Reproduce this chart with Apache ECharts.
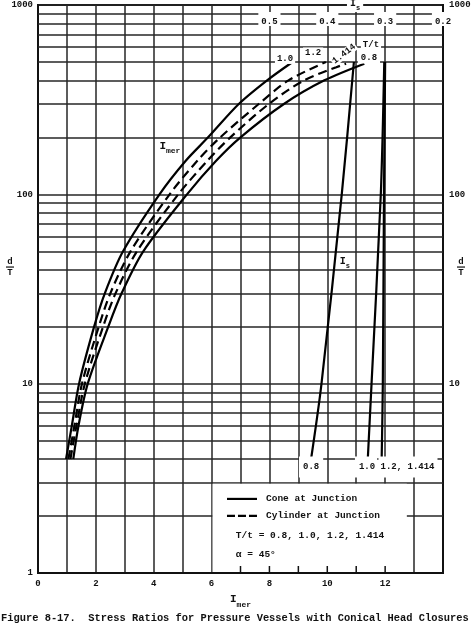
<!DOCTYPE html>
<html>
<head>
<meta charset="utf-8">
<script src="https://cdn.jsdelivr.net/npm/echarts@6/dist/echarts.min.js"></script>
<style>
  html, body { margin: 0; padding: 0; background: #fff; }
  #chart { width: 474px; height: 626px; }
</style>
</head>
<body>
<div id="chart"></div>
<script>
// I_mer curves, [I_mer, d/T]
const coneTt10 = [[0.97, 4], [1.17, 6], [1.42, 10], [1.94, 20], [2.31, 30], [2.94, 50], [4.2, 100], [5.1, 150], [5.88, 200], [6.94, 300], [7.92, 400], [8.8, 500]]
const cylTt12 = [[1.05, 4], [1.26, 6], [1.52, 10], [2.1, 20], [2.5, 30], [3.2, 50], [4.55, 100], [5.5, 150], [6.3, 200], [7.63, 300], [8.66, 400], [9.95, 500]]
const cylTt1414 = [[1.12, 4], [1.33, 6], [1.62, 10], [2.25, 20], [2.68, 30], [3.42, 50], [4.85, 100], [5.85, 150], [6.65, 200], [7.98, 300], [9.2, 400], [10.65, 490]]
const coneTt08 = [[1.22, 4], [1.4, 6], [1.72, 10], [2.43, 20], [2.89, 30], [3.64, 50], [5.15, 100], [6.15, 150], [7.0, 200], [8.5, 300], [9.9, 400], [11.28, 490]]

// I_s curves (read on the bottom scale), [x, d/T]
const isTt08 = [[9.44, 4], [9.8, 10], [10.5, 100], [10.92, 500]]
const isTt10 = [[11.4, 4], [11.53, 10], [11.85, 100], [11.97, 500]]
const isTt12 = [[11.88, 4], [11.92, 10], [11.96, 100], [12.0, 500]]

// axes
const xLabels = [0, 2, 4, 6, 8, 10, 12]
const isTickLabels = [0.5, 0.4, 0.3, 0.2]
const rightYLabels = [10, 100, 1000]
const minorGrid = [2, 3, 4, 5, 6, 7, 8, 9, 20, 30, 40, 50, 60, 70, 80, 90, 200, 300, 400, 500, 600, 700, 800, 900]
const boxTicks = [7, 8, 9, 10, 11, 12]

const FONT = '"Liberation Mono", "DejaVu Sans Mono", monospace'
const INK = '#111'
const GRID = '#262626'

const chart = echarts.init(document.getElementById('chart'), null, { renderer: 'canvas' })

const curve = (name, data, dashed) => ({
  name,
  type: 'line',
  data,
  smooth: 0.3,
  symbol: 'none',
  z: 5,
  itemStyle: { color: '#000' },
  lineStyle: { color: '#000', width: 2.2, type: dashed ? [9, 5] : 'solid' }
})

const subRich = (big, small) => ({
  i: { fontFamily: FONT, fontWeight: 'bold', fontSize: big, lineHeight: big + 4, color: INK, verticalAlign: 'top' },
  s: { fontFamily: FONT, fontWeight: 'bold', fontSize: small, lineHeight: small, color: INK, verticalAlign: 'bottom' }
})

chart.setOption({
  animation: false,
  backgroundColor: '#fff',
  grid: { left: 38, right: 31, top: 5, bottom: 53, show: true, borderColor: INK, borderWidth: 2 },
  xAxis: [
    {
      type: 'value', min: 0, max: 14, interval: 1, position: 'bottom',
      axisLine: { show: true, lineStyle: { color: INK, width: 2 } },
      axisTick: { show: false },
      axisLabel: { customValues: xLabels, fontFamily: FONT, fontWeight: 'bold', fontSize: 9, color: INK, margin: 6 },
      splitLine: { show: true, lineStyle: { color: GRID, width: 1.5 } },
      name: '{i|I}{s|mer}', nameLocation: 'middle', nameGap: 21,
      nameTextStyle: { rich: subRich(11, 8) }
    },
    {
      type: 'value', min: 0.2, max: 0.9, interval: 0.1, inverse: true, position: 'top', offset: -7,
      axisLine: { show: false }, axisTick: { show: false }, splitLine: { show: false },
      axisLabel: {
        inside: true, margin: 0, customValues: isTickLabels, formatter: v => v.toFixed(1),
        showMinLabel: true, showMaxLabel: true,
        backgroundColor: '#fff', padding: [5, 3, 0, 3],
        fontFamily: FONT, fontWeight: 'bold', fontSize: 9, color: INK
      },
      z: 20
    }
  ],
  yAxis: [
    {
      type: 'log', logBase: 10, min: 1, max: 1000, position: 'left',
      axisLine: { show: true, lineStyle: { color: INK, width: 2 } },
      axisTick: { show: false },
      axisLabel: { formatter: v => String(v), fontFamily: FONT, fontWeight: 'bold', fontSize: 9, color: INK, margin: 5 },
      splitLine: { show: true, lineStyle: { color: GRID, width: 1.5 } }
    },
    {
      type: 'log', logBase: 10, min: 1, max: 1000, position: 'right',
      axisLine: { show: true, lineStyle: { color: INK, width: 2 } },
      axisTick: { show: false },
      axisLabel: { customValues: rightYLabels, formatter: v => String(v), fontFamily: FONT, fontWeight: 'bold', fontSize: 9, color: INK, margin: 6 },
      splitLine: { show: false }
    }
  ],
  series: [
    {
      name: 'grid', type: 'line', data: [], silent: true, z: 1,
      markLine: {
        silent: true, symbol: ['none', 'none'], label: { show: false },
        lineStyle: { color: GRID, width: 1.5, type: 'solid' },
        emphasis: { disabled: true },
        data: minorGrid.map(v => ({ yAxis: v }))
      }
    },
    curve('Cone at Junction', coneTt10, false),
    curve('Cylinder at Junction', cylTt12, true),
    curve('Cylinder at Junction', cylTt1414, true),
    curve('Cone at Junction', coneTt08, false),
    curve('Is', isTt08, false),
    curve('Is', isTt10, false),
    curve('Is', isTt12, false)
  ]
})

const p = (x, y) => chart.convertToPixel({ xAxisIndex: 0, yAxisIndex: 0 }, [x, y])
const font = (size) => 'bold ' + size + 'px ' + FONT

const text = (x, y, str, extra) => {
  const pt = p(x, y)
  return Object.assign({
    type: 'text', x: pt[0], y: pt[1], z: 30,
    style: Object.assign({ text: str, font: font(9), fill: INK, align: 'center', verticalAlign: 'middle' }, extra && extra.style)
  }, extra && extra.el)
}

const boxA = p(6, 3)
const boxB = p(12.75, 1)
const legendPt = p(6.36, 2.78)
const plotL = p(0, 41.3)
const plotR = p(14, 41.3)

const fraction = (cx, cy) => [
  { type: 'text', x: cx, y: cy - 1, z: 30, style: { text: 'd', font: font(9), fill: INK, align: 'center', verticalAlign: 'bottom' } },
  { type: 'line', z: 30, shape: { x1: cx - 4, y1: cy, x2: cx + 4, y2: cy }, style: { stroke: INK, lineWidth: 1.2 } },
  { type: 'text', x: cx, y: cy + 1, z: 30, style: { text: 'T', font: font(9), fill: INK, align: 'center', verticalAlign: 'top' } }
]

const graphics = [
  {
    type: 'rect', z: 10,
    shape: { x: boxA[0] + 1, y: boxA[1] + 1, width: boxB[0] - boxA[0] - 1, height: boxB[1] - boxA[1] - 2 },
    style: { fill: '#fff' }
  },
  ...boxTicks.map(x => {
    const b = p(x, 1)
    return { type: 'line', z: 12, shape: { x1: b[0], y1: b[1], x2: b[0], y2: b[1] - 7 }, style: { stroke: INK, lineWidth: 1.5 } }
  }),
  text(6.84, 1.57, 'T/t = 0.8, 1.0, 1.2, 1.414', { style: { align: 'left', font: font(9.5) } }),
  text(6.84, 1.245, 'α = 45°', { style: { align: 'left', font: font(9.5) } }),
  // I_s scale title on the top border
  text(10.96, 1000, '{i|I}{s|s}', { style: { rich: subRich(10, 7), backgroundColor: '#fff', padding: [0, 3] } }),
  // curve labels
  text(4.56, 176, '{i|I}{s|mer}', { style: { rich: subRich(11, 8) } }),
  text(10.61, 43.3, '{i|I}{s|s}', { style: { rich: subRich(10, 7) } }),
  text(8.54, 522, '1.0', { style: { backgroundColor: '#fff', padding: [1, 2] } }),
  text(9.51, 558, '1.2', { style: { backgroundColor: '#fff', padding: [1, 2] } }),
  text(10.58, 551, '1.414', { el: { rotation: Math.PI / 180 * 38 }, style: { backgroundColor: '#fff', padding: [0, 1] } }),
  text(11.51, 615, 'T/t', { style: { backgroundColor: '#fff', padding: [0, 2] } }),
  text(11.44, 525, '0.8', { style: { backgroundColor: '#fff', padding: [1, 3] } }),
  text(9.44, 3.63, '0.8', { style: { backgroundColor: '#fff', padding: [6, 4, 6, 4] } }),
  text(11.34, 3.63, '1.0', { style: { backgroundColor: '#fff', padding: [6, 2, 6, 4] } }),
  text(12.79, 3.63, '1.2, 1.414', { style: { backgroundColor: '#fff', padding: [6, 3, 6, 2] } }),
  ...fraction(plotL[0] - 28, plotL[1]),
  ...fraction(plotR[0] + 18, plotR[1]),
  {
    type: 'text', x: 1, y: 618, z: 30,
    style: { text: 'Figure 8-17.  Stress Ratios for Pressure Vessels with Conical Head Closures', font: font(10.4), fill: INK, align: 'left', verticalAlign: 'middle' }
  }
]

chart.setOption({
  legend: {
    data: [
      { name: 'Cone at Junction', icon: 'path://M0,0h30v2.2h-30z' },
      { name: 'Cylinder at Junction', icon: 'path://M0,0h8v2.2h-8zM11,0h8v2.2h-8zM22,0h8v2.2h-8z' }
    ],
    orient: 'vertical', left: legendPt[0], top: legendPt[1],
    itemWidth: 30, itemHeight: 10, itemGap: 7, selectedMode: false, z: 15,
    itemStyle: { color: '#000' },
    textStyle: { fontFamily: FONT, fontWeight: 'bold', fontSize: 9.5, color: INK, padding: [0, 0, 0, 4] }
  },
  graphic: graphics
})
</script>
</body>
</html>
